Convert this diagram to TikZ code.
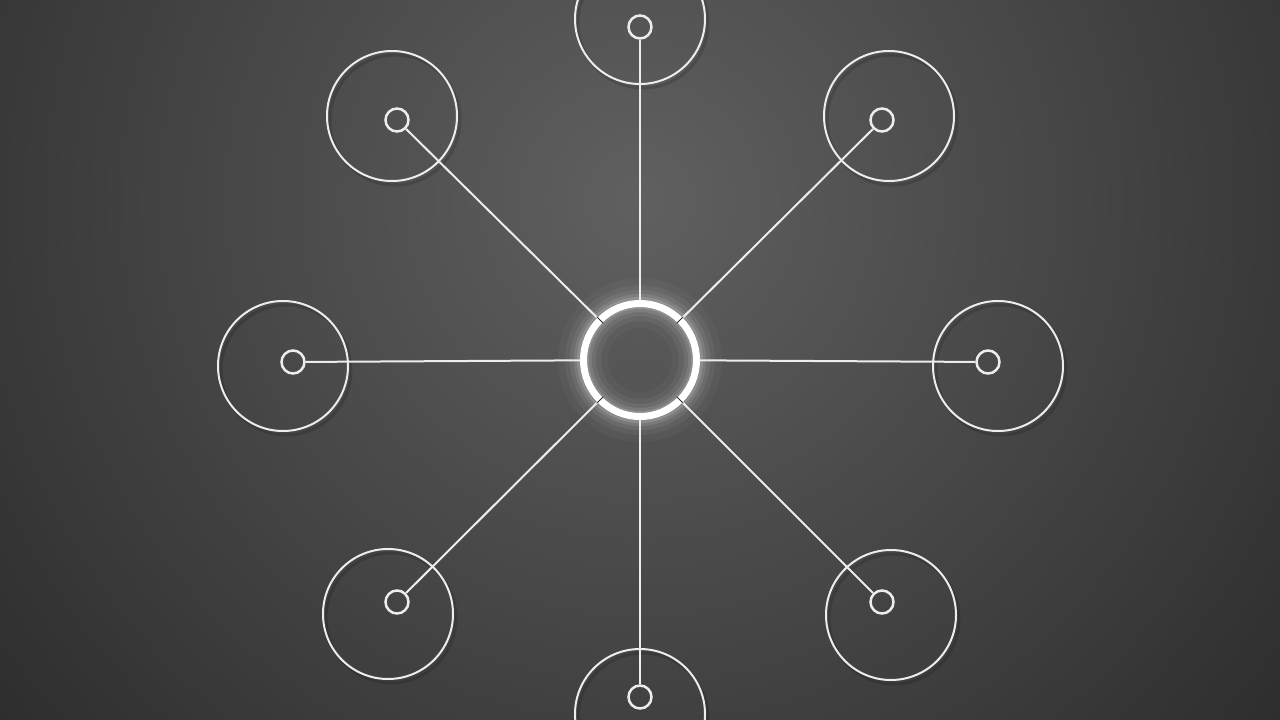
\documentclass[tikz,border=0pt]{standalone}
\usetikzlibrary{calc}
\definecolor{bginner}{HTML}{606060}
\definecolor{bgouter}{HTML}{2E2E2E}
\definecolor{wire}{HTML}{EDEDED}
\tikzset{
  sat/.style={circle, draw=wire, line width=2.5pt, minimum size=23pt, inner sep=0pt},
  hub/.style={circle, draw=white, line width=7pt, minimum size=113pt, inner sep=0pt},
  orbit/.style={draw=wire, line width=2pt},
  orbitshadow/.style={draw=black, opacity=0.14, line width=3pt},
  spoke/.style={draw=wire, line width=2pt},
}

\begin{document}
\begin{tikzpicture}[x=1pt,y=-1pt]
	%%%%% START %%%%%
	
	\useasboundingbox (0,0) rectangle (1280,720);
	\begin{scope}
		\clip (0,0) rectangle (1280,720);
		\fill[bgouter] (0,0) rectangle (1280,720);
		\shade[inner color=bginner, outer color=bgouter] (640,200) circle (820);
	\end{scope}
	
	% glow round the hub
	\foreach \w/\o in {50/0.03, 36/0.05, 26/0.07, 18/0.10, 12/0.14}
		\draw[white, opacity=\o, line width=\w pt] (640,360) circle (57);
	
	% big rings
	\foreach \x/\y in {640/19, 889/116, 998/366, 891/615, 640/714, 388/614, 283/366, 392/116}{
		\draw[orbitshadow] (\x+3,\y+4) circle (65);
		\draw[orbit] (\x,\y) circle (65);
	}
	
	\node[hub] (hub) at (640,360) {};
	
	\node[sat] (sat1) at (640,27) {};
	\node[sat] (sat2) at (882,120) {};
	\node[sat] (sat3) at (988,362) {};
	\node[sat] (sat4) at (882,602) {};
	\node[sat] (sat5) at (640,697) {};
	\node[sat] (sat6) at (397,602) {};
	\node[sat] (sat7) at (293,362) {};
	\node[sat] (sat8) at (397,120) {};
	
	\foreach \s in {1,...,8}
		\draw[spoke] (hub) -- (sat\s);
	
	% notches in the hub
	\foreach \a in {45,135,225,315}
		\draw[bgouter, line width=1pt] ($(hub.center)+(\a:52)$) -- ($(hub.center)+(\a:61)$);
	
	%%%%% END %%%%%
\end{tikzpicture}
\end{document}
